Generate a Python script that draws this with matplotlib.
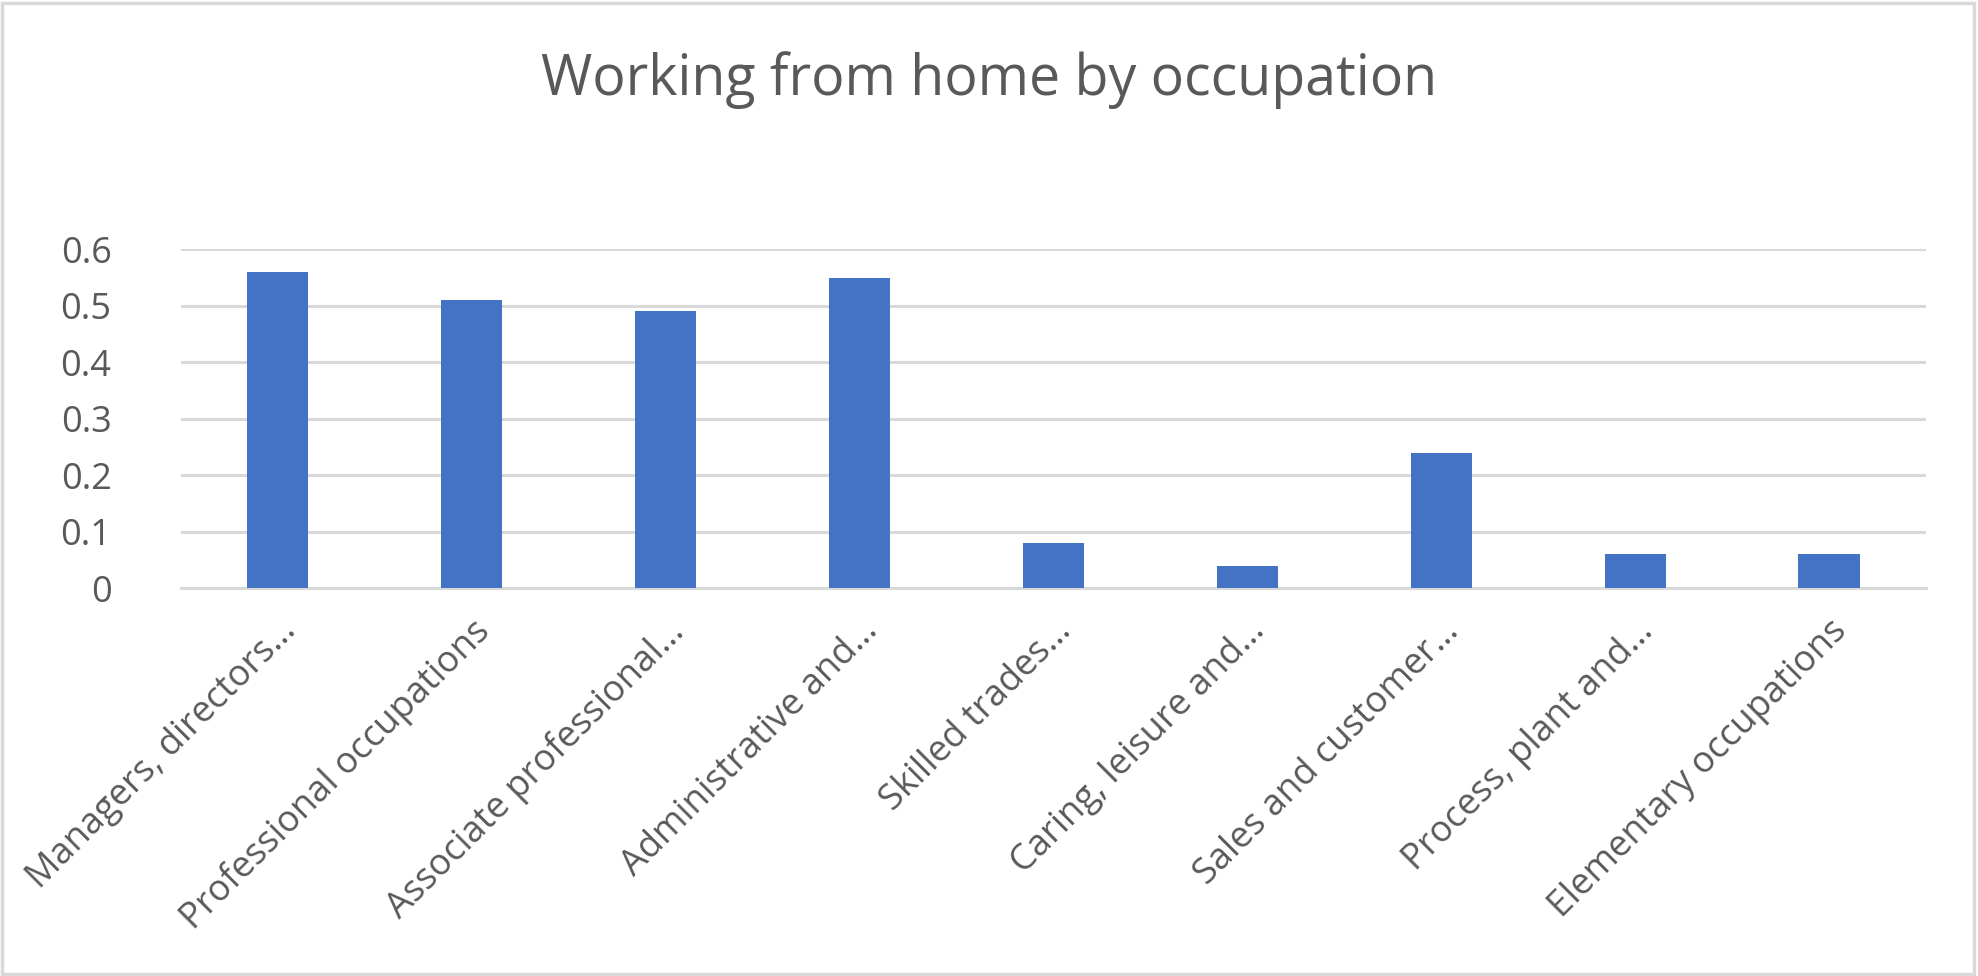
import matplotlib.pyplot as plt
from matplotlib.patches import Rectangle

occupations = ['Managers, directors…', 'Professional occupations', 'Associate professional…',
               'Administrative and…', 'Skilled trades…', 'Caring, leisure and…',
               'Sales and customer…', 'Process, plant and…', 'Elementary occupations']
share = [0.56, 0.51, 0.49, 0.55, 0.08, 0.04, 0.24, 0.06, 0.06]
yticks = [0, 0.1, 0.2, 0.3, 0.4, 0.5, 0.6]

plt.rcParams['font.family'] = ['Open Sans', 'DejaVu Sans']
grey = '#595959'

fig = plt.figure(figsize=(19.78, 9.76), dpi=100)
ax = fig.add_axes([0.0915, 0.3972, 0.8822, 0.3474])

x = range(len(occupations))
ax.bar(x, share, width=0.315, color='#4472C4', zorder=3)

ax.set_xlim(-0.5, len(occupations) - 0.5)
ax.set_ylim(0, 0.6)
ax.set_yticks(yticks)
ax.set_yticklabels([f'{t:g}' for t in yticks], fontsize=26, color=grey)
ax.yaxis.grid(True, color='#D9D9D9', linewidth=2.2, zorder=0)
ax.set_xticks(list(x))
ax.set_xticklabels(occupations, rotation=45, ha='right', rotation_mode='anchor',
                   fontsize=26, color=grey)
ax.tick_params(axis='both', length=0)
ax.tick_params(axis='y', pad=50)
ax.tick_params(axis='x', pad=18)
for s in ['top', 'right', 'left']:
    ax.spines[s].set_visible(False)
ax.spines['bottom'].set_color('#D9D9D9')
ax.spines['bottom'].set_linewidth(2.2)

fig.text(0.5, 0.918, 'Working from home by occupation', ha='center', va='center',
         fontsize=40, color=grey)

fig.patches.append(Rectangle((0.001, 0.002), 0.997, 0.995, transform=fig.transFigure,
                             fill=False, edgecolor='#D9D9D9', linewidth=2.5))

fig.savefig('out.png', dpi=100)
